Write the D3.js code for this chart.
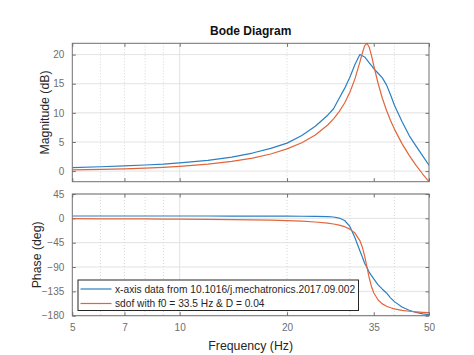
<!DOCTYPE html>
<html><head><meta charset="utf-8">
<script src="https://cdn.jsdelivr.net/npm/d3@7"></script>
<style>
html,body{margin:0;padding:0;background:#fff;}
svg{display:block;font-family:"Liberation Sans",Arial,Helvetica,sans-serif;}
</style></head>
<body>
<svg id="c" width="474" height="355"></svg>
<script>
const freqs = [5,6,7,8,9,10,12,14,16,18,20,22,24,26,27,28,29,30,31,32,32.5,33,33.5,34,34.5,35,36,37,38,39,40,42,44,46,48,50];
const blueMag = [0.6,0.75,0.9,1.05,1.2,1.4,1.85,2.4,3.1,3.9,4.8,6.1,7.7,9.6,10.7,12.5,14.2,16.1,18.3,20.0,19.8,19.6,19.1,18.6,18.1,17.6,16.8,16.0,14.8,13.1,11.3,8.5,6.1,4.3,2.6,1.0];
const redMag = [0.20,0.28,0.39,0.51,0.65,0.81,1.19,1.66,2.24,2.94,3.81,4.87,6.19,7.91,8.96,10.21,11.70,13.53,15.83,18.70,20.23,21.49,21.94,21.25,19.81,18.13,15.04,12.51,10.44,8.70,7.21,4.72,2.70,0.99,-0.50,-1.82];
const bluePhase = [4.3,4.3,4.3,4.3,4.3,4.3,4.3,4.2,4.2,4.1,4.0,3.9,3.8,3.3,2.5,0.5,-4,-15,-36,-60,-71,-83,-91,-100,-106,-112,-123,-131,-138,-147,-154,-164,-170,-174,-176.5,-178];
const redPhase = [-0.70,-0.85,-1.00,-1.16,-1.33,-1.50,-1.88,-2.32,-2.83,-3.46,-4.24,-5.28,-6.72,-8.87,-10.43,-12.51,-15.45,-19.89,-27.25,-41.12,-52.85,-69.39,-90,-110.33,-126.33,-137.61,-150.96,-158.11,-162.44,-165.31,-167.35,-170.05,-171.75,-172.93,-173.79,-174.44];

const xTicks = [5,7,10,20,35,50];
const xMajorGrid = [10];
const xMinorGrid = [6,7,8,9,20,30,40];
const magTicks = [0,5,10,15,20];
const phaseTicks = [-180,-135,-90,-45,0,45];
const legendLabels = ["x-axis data from 10.1016/j.mechatronics.2017.09.002","sdof with f0 = 33.5 Hz & D = 0.04"];
const title = "Bode Diagram";
const xLabel = "Frequency  (Hz)";
const magLabel = "Magnitude (dB)";
const phaseLabel = "Phase (deg)";

const BLUE = "#2b80c4", RED = "#e3653b";
const svg = d3.select("#c");
const L = 72.3, R = 429;
const x = d3.scaleLog().domain([5,50]).range([L,R]);
const yMag = d3.scaleLinear().domain([-1.82,21.94]).range([181.7,43.3]);
const yPh = d3.scaleLinear().domain([-180,45]).range([315.7,194]);

function panel(y, yticks, id) {
  const [b, t] = y.range();
  const g = svg.append("g");
  g.append("rect").attr("x",L).attr("y",t).attr("width",R-L).attr("height",b-t).attr("fill","#fff");
  // horizontal grid
  g.selectAll(null).data(yticks).enter().append("line")
    .attr("x1",L).attr("x2",R).attr("y1",d=>y(d)).attr("y2",d=>y(d))
    .attr("stroke","#e3e3e3").attr("stroke-width",1);
  // minor vertical grid
  g.selectAll(null).data(xMinorGrid).enter().append("line")
    .attr("x1",d=>x(d)).attr("x2",d=>x(d)).attr("y1",t).attr("y2",b)
    .attr("stroke","#d6d6d6").attr("stroke-width",1).attr("stroke-dasharray","1,2");
  g.selectAll(null).data(xMajorGrid).enter().append("line")
    .attr("x1",d=>x(d)).attr("x2",d=>x(d)).attr("y1",t).attr("y2",b)
    .attr("stroke","#e3e3e3").attr("stroke-width",1);
  // clip
  svg.append("clipPath").attr("id",id).append("rect").attr("x",L).attr("y",t-1).attr("width",R-L).attr("height",b-t+2);
  // axes with d3
  const ax = g.append("g").attr("transform",`translate(${L},0)`)
    .call(d3.axisLeft(y).tickValues(yticks).tickSize(-3.5).tickPadding(8).tickFormat(d3.format("d")));
  const axr = g.append("g").attr("transform",`translate(${R},0)`)
    .call(d3.axisRight(y).tickValues(yticks).tickSize(-3.5).tickFormat(""));
  const axt = g.append("g").attr("transform",`translate(0,${t})`)
    .call(d3.axisTop(x).tickValues(xTicks).tickSize(-3.5).tickFormat(""));
  const axb = g.append("g").attr("transform",`translate(0,${b})`)
    .call(d3.axisBottom(x).tickValues(xTicks).tickSize(-3.5).tickPadding(8).tickFormat(d3.format("d")));
  [ax,axr,axt,axb].forEach(a=>{
    a.select(".domain").remove();
    a.selectAll(".tick line").attr("stroke","#707070");
    a.selectAll("text").attr("fill","#6e6e6e").attr("font-size","10px").attr("font-family","Liberation Sans, Arial, sans-serif");
  });
  return {g, axb, t, b};
}

const p1 = panel(yMag, magTicks, "clip1");
p1.axb.selectAll("text").remove();
const p2 = panel(yPh, phaseTicks, "clip2");

function drawLines(y, vals, clip) {
  vals.forEach(([data,color])=>{
    svg.append("path").datum(freqs.map((f,i)=>[f,data[i]]))
      .attr("clip-path",`url(#${clip})`)
      .attr("fill","none").attr("stroke",color).attr("stroke-width",1.2)
      .attr("stroke-linejoin","round")
      .attr("d", d3.line().x(d=>x(d[0])).y(d=>y(d[1])));
  });
}
drawLines(yMag, [[blueMag,BLUE],[redMag,RED]], "clip1");
drawLines(yPh, [[bluePhase,BLUE],[redPhase,RED]], "clip2");

// frames
[[yMag],[yPh]].forEach(([y])=>{
  const [b,t] = y.range();
  svg.append("rect").attr("x",L).attr("y",t).attr("width",R-L).attr("height",b-t)
    .attr("fill","none").attr("stroke","#707070").attr("stroke-width",1);
});

// legend
const lg = svg.append("g");
lg.append("rect").attr("x",78).attr("y",280).attr("width",280.5).attr("height",30.5)
  .attr("fill","#fff").attr("stroke","#262626").attr("stroke-width",1);
[[BLUE,289],[RED,303.5]].forEach(([c,yy],i)=>{
  lg.append("line").attr("x1",80.5).attr("x2",111.5).attr("y1",yy).attr("y2",yy).attr("stroke",c).attr("stroke-width",1.2);
  lg.append("text").attr("x",115).attr("y",yy+3.6).attr("font-size","10.2px").attr("fill","#262626").text(legendLabels[i]);
});

// texts
svg.append("text").attr("x",(L+R)/2).attr("y",35).attr("text-anchor","middle")
  .attr("font-weight","bold").attr("font-size","12px").attr("fill","#111").text(title);
svg.append("text").attr("x",(L+R)/2).attr("y",350).attr("text-anchor","middle")
  .attr("font-size","12.3px").attr("fill","#262626").text(xLabel);
svg.append("text").attr("transform",`translate(49,${(43.3+181.7)/2}) rotate(-90)`).attr("text-anchor","middle")
  .attr("font-size","12.3px").attr("fill","#262626").text(magLabel);
svg.append("text").attr("transform",`translate(40.5,${(194+315.7)/2}) rotate(-90)`).attr("text-anchor","middle")
  .attr("font-size","12.3px").attr("fill","#262626").text(phaseLabel);
</script>
</body></html>
